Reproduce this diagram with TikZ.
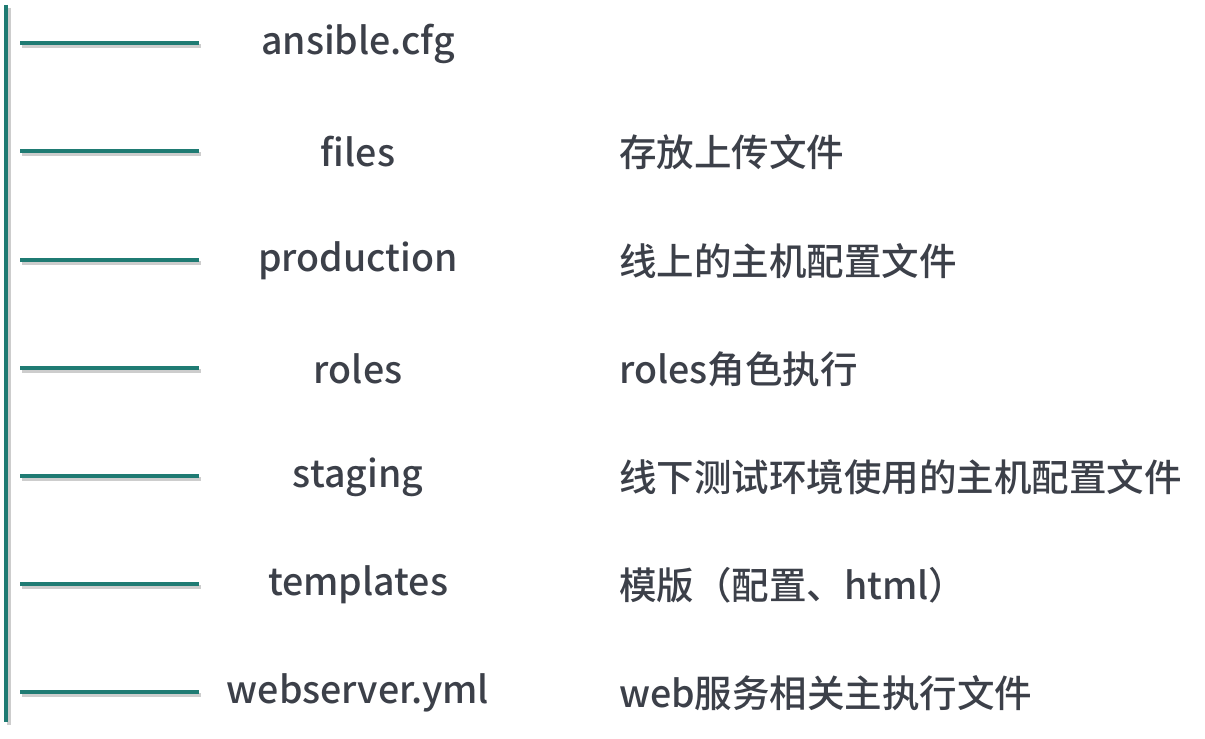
\documentclass[tikz,border=0pt]{standalone}
\usetikzlibrary{calc}
\usepackage{fontspec}
\setmainfont{Noto Sans CJK SC}[UprightFont={* Medium}]
\definecolor{teal1}{HTML}{1F7B73}
\definecolor{txt}{HTML}{3C4049}
\definecolor{shd}{HTML}{CDCDCD}
\begin{document}
\begin{tikzpicture}[x=1pt,y=1pt,
  br/.style={line width=4pt,teal1},
  brs/.style={line width=4pt,shd},
  lbl/.style={font=\fontsize{37.5}{40}\selectfont,text=txt,anchor=center,inner sep=0pt},
  desc/.style={font=\fontsize{37.5}{40}\selectfont,text=txt,anchor=west,inner sep=0pt}]
\useasboundingbox (0,0) rectangle (1205,739);
\fill[white] (0,0) rectangle (1205,739);
% vertical trunk
\coordinate (t0) at (6,734);
\coordinate (t1) at (6,17);
\draw[brs] ($(t0)+(3,-3)$) -- ($(t1)+(3,-3)$);
\draw[br] (t0) -- (t1);
\foreach \n/\y/\a/\b in {
  1/43/ansible.cfg/,
  2/151/files/存放上传文件,
  3/260/production/线上的主机配置文件,
  4/368/roles/roles角色执行,
  5/476/staging/线下测试环境使用的主机配置文件,
  6/584/templates/模版（配置、html）,
  7/692/webserver.yml/web服务相关主执行文件}{
  \coordinate (s\n) at (20,739-\y);
  \coordinate (e\n) at (199,739-\y);
  \draw[brs] ($(s\n)+(2,-3)$) -- ($(e\n)+(2,-3)$);
  \draw[br] (s\n) -- (e\n);
  \node[lbl] (l\n) at (358,738-\y) {\a};
  \node[desc] (d\n) at (619,738-\y) {\b};
}
\end{tikzpicture}
\end{document}
